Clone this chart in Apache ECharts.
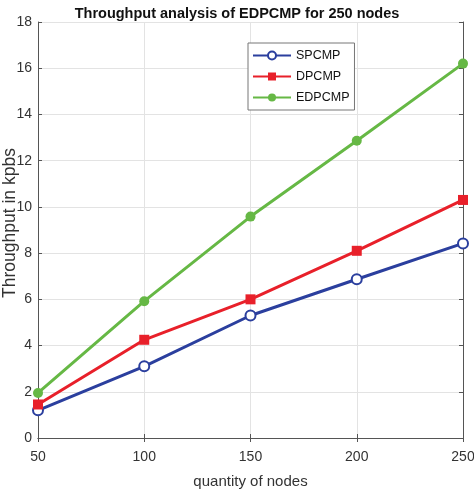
<!DOCTYPE html>
<html>
<head>
    <meta charset="utf-8">
    <title>Throughput analysis</title>
    <style>
        html, body { margin: 0; padding: 0; background: #fff; }
        #chart { width: 474px; height: 489px; }
    </style>
</head>
<body>
<div id="chart"></div>
<script src="https://cdn.jsdelivr.net/npm/echarts@6/dist/echarts.min.js"></script>
<script>
    // x 轴：节点数量
    var nodes = [50, 100, 150, 200, 250];
    // 三条曲线数据 (kpbs)
    var spcmp = [1.2, 3.1, 5.3, 6.87, 8.42];
    var dpcmp = [1.45, 4.25, 6.0, 8.1, 10.3];
    var edpcmp = [1.95, 5.92, 9.58, 12.86, 16.2];
    var seriesNames = ['SPCMP', 'DPCMP', 'EDPCMP'];

    function pairs(arr) {
        var out = [];
        for (var i = 0; i < nodes.length; i++) {
            out.push([nodes[i], arr[i]]);
        }
        return out;
    }

    var font = 'Liberation Sans, Arial, sans-serif';
    var axisLine = { show: true, lineStyle: { color: '#555', width: 1 } };
    var tick = { show: true, inside: true, length: 4, lineStyle: { color: '#555' } };

    var chart = echarts.init(document.getElementById('chart'));
    chart.setOption({
        animation: false,
        title: {
            text: 'Throughput analysis of EDPCMP for 250 nodes',
            left: 'center',
            top: 1,
            textStyle: { fontFamily: font, fontSize: 14.5, fontWeight: 'bold', color: '#111' }
        },
        legend: {
            orient: 'vertical',
            left: 248,
            top: 43,
            itemWidth: 38,
            itemHeight: 10,
            itemGap: 8,
            padding: [6, 5, 6, 4],
            borderColor: '#777',
            borderWidth: 1,
            backgroundColor: '#fff',
            textStyle: { fontFamily: font, fontSize: 12.5, color: '#111' },
            data: seriesNames
        },
        grid: { left: 38, right: 11, top: 22, bottom: 51, outerBoundsMode: 'none', containLabel: false },
        xAxis: [{
            type: 'value',
            min: 50, max: 250, interval: 50,
            name: 'quantity of nodes',
            nameLocation: 'middle',
            nameGap: 36,
            nameMoveOverlap: false,
            nameTextStyle: { fontFamily: font, fontSize: 15, color: '#333' },
            axisLine: axisLine,
            axisTick: tick,
            axisLabel: { fontFamily: font, fontSize: 14, color: '#333', margin: 12 },
            splitLine: { show: true, lineStyle: { color: '#e3e3e3' } }
        }, {
            type: 'value', position: 'top',
            min: 50, max: 250, interval: 50,
            axisLine: axisLine, axisTick: tick,
            axisLabel: { show: false }, splitLine: { show: false }
        }],
        yAxis: [{
            type: 'value',
            min: 0, max: 18, interval: 2,
            name: 'Throughput in kpbs',
            nameLocation: 'middle',
            nameGap: 19,
            nameMoveOverlap: false,
            nameTextStyle: { fontFamily: font, fontSize: 17.5, color: '#333', padding: [0, 0, 0, 14] },
            axisLine: axisLine,
            axisTick: tick,
            axisLabel: { fontFamily: font, fontSize: 14, color: '#333', margin: 6 },
            splitLine: { show: true, lineStyle: { color: '#e3e3e3' } }
        }, {
            type: 'value', position: 'right',
            min: 0, max: 18, interval: 2,
            axisLine: axisLine, axisTick: tick,
            axisLabel: { show: false }, splitLine: { show: false }
        }],
        series: [{
            name: 'SPCMP',
            type: 'line',
            data: pairs(spcmp),
            symbol: 'emptyCircle',
            symbolSize: 10,
            color: '#2b3f9e',
            lineStyle: { width: 3 },
            itemStyle: { borderWidth: 2.5 }
        }, {
            name: 'DPCMP',
            type: 'line',
            data: pairs(dpcmp),
            symbol: 'rect',
            symbolSize: 10,
            color: '#e8202a',
            lineStyle: { width: 3 }
        }, {
            name: 'EDPCMP',
            type: 'line',
            data: pairs(edpcmp),
            symbol: 'circle',
            symbolSize: 10,
            color: '#66b845',
            lineStyle: { width: 3 }
        }]
    });
</script>
</body>
</html>
